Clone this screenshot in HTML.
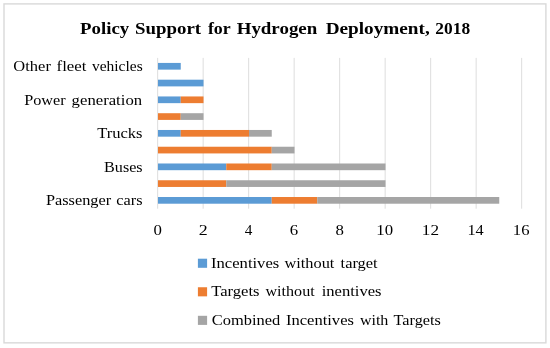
<!DOCTYPE html>
<html><head><meta charset="utf-8"><title>Policy Support for Hydrogen Deployment, 2018</title>
<style>
html,body{margin:0;padding:0;background:#fff;}
body{width:550px;height:348px;overflow:hidden;}
svg{display:block;}
text{font-family:"Liberation Serif",serif;fill:#000;}
</style></head><body>
<svg width="550" height="348" viewBox="0 0 550 348">
<rect x="0" y="0" width="550" height="348" fill="#fff"/>
<rect x="4.0" y="3.9" width="541.9" height="338.95" fill="#fff" stroke="#D9D9D9" stroke-width="1.4"/>

<line x1="157.65" y1="57.9" x2="157.65" y2="208.7" stroke="#D9D9D9" stroke-width="0.9"/>
<line x1="203.15" y1="57.9" x2="203.15" y2="208.7" stroke="#D9D9D9" stroke-width="0.9"/>
<line x1="248.65" y1="57.9" x2="248.65" y2="208.7" stroke="#D9D9D9" stroke-width="0.9"/>
<line x1="294.15" y1="57.9" x2="294.15" y2="208.7" stroke="#D9D9D9" stroke-width="0.9"/>
<line x1="339.65" y1="57.9" x2="339.65" y2="208.7" stroke="#D9D9D9" stroke-width="0.9"/>
<line x1="385.15" y1="57.9" x2="385.15" y2="208.7" stroke="#D9D9D9" stroke-width="0.9"/>
<line x1="430.65" y1="57.9" x2="430.65" y2="208.7" stroke="#D9D9D9" stroke-width="0.9"/>
<line x1="476.15" y1="57.9" x2="476.15" y2="208.7" stroke="#D9D9D9" stroke-width="0.9"/>
<line x1="521.65" y1="57.9" x2="521.65" y2="208.7" stroke="#D9D9D9" stroke-width="0.9"/>
<rect x="158.00" y="62.93" width="22.75" height="6.7" fill="#5B9BD5"/>
<rect x="158.00" y="79.69" width="45.50" height="6.7" fill="#5B9BD5"/>
<rect x="158.00" y="96.45" width="22.75" height="6.7" fill="#5B9BD5"/>
<rect x="180.75" y="96.45" width="22.75" height="6.7" fill="#ED7D31"/>
<rect x="158.00" y="113.21" width="22.75" height="6.7" fill="#ED7D31"/>
<rect x="180.75" y="113.21" width="22.75" height="6.7" fill="#A5A5A5"/>
<rect x="158.00" y="129.97" width="22.75" height="6.7" fill="#5B9BD5"/>
<rect x="180.75" y="129.97" width="68.25" height="6.7" fill="#ED7D31"/>
<rect x="249.00" y="129.97" width="22.75" height="6.7" fill="#A5A5A5"/>
<rect x="158.00" y="146.73" width="113.75" height="6.7" fill="#ED7D31"/>
<rect x="271.75" y="146.73" width="22.75" height="6.7" fill="#A5A5A5"/>
<rect x="158.00" y="163.49" width="68.25" height="6.7" fill="#5B9BD5"/>
<rect x="226.25" y="163.49" width="45.50" height="6.7" fill="#ED7D31"/>
<rect x="271.75" y="163.49" width="113.75" height="6.7" fill="#A5A5A5"/>
<rect x="158.00" y="180.25" width="68.25" height="6.7" fill="#ED7D31"/>
<rect x="226.25" y="180.25" width="159.25" height="6.7" fill="#A5A5A5"/>
<rect x="158.00" y="197.01" width="113.75" height="6.7" fill="#5B9BD5"/>
<rect x="271.75" y="197.01" width="45.50" height="6.7" fill="#ED7D31"/>
<rect x="317.25" y="197.01" width="182.00" height="6.7" fill="#A5A5A5"/>
<text y="33.6" font-size="17.6" font-weight="bold"><tspan x="80.08" textLength="49.07" lengthAdjust="spacingAndGlyphs">Policy</tspan> <tspan x="135.04" textLength="65.99" lengthAdjust="spacingAndGlyphs">Support</tspan> <tspan x="207.9" textLength="22.47" lengthAdjust="spacingAndGlyphs">for</tspan> <tspan x="236.68" textLength="80.61" lengthAdjust="spacingAndGlyphs">Hydrogen</tspan> <tspan x="325.67" textLength="104.12" lengthAdjust="spacingAndGlyphs">Deployment,</tspan> <tspan x="435.31" textLength="34.78" lengthAdjust="spacingAndGlyphs">2018</tspan></text>
<text y="71.3" font-size="15.4"><tspan x="13.36" textLength="37.52" lengthAdjust="spacingAndGlyphs">Other</tspan> <tspan x="56.55" textLength="29.91" lengthAdjust="spacingAndGlyphs">fleet</tspan> <tspan x="92.0" textLength="50.66" lengthAdjust="spacingAndGlyphs">vehicles</tspan></text>
<text y="104.8" font-size="15.4"><tspan x="24.18" textLength="41.48" lengthAdjust="spacingAndGlyphs">Power</tspan> <tspan x="71.64" textLength="70.47" lengthAdjust="spacingAndGlyphs">generation</tspan></text>
<text y="138.2" font-size="15.4"><tspan x="97.18" textLength="45.39" lengthAdjust="spacingAndGlyphs">Trucks</tspan></text>
<text y="171.6" font-size="15.4"><tspan x="104.08" textLength="38.54" lengthAdjust="spacingAndGlyphs">Buses</tspan></text>
<text y="205.0" font-size="15.4"><tspan x="45.98" textLength="65.22" lengthAdjust="spacingAndGlyphs">Passenger</tspan> <tspan x="116.36" textLength="26.26" lengthAdjust="spacingAndGlyphs">cars</tspan></text>
<text y="235.0" font-size="15.4"><tspan x="153.49" textLength="8.41" lengthAdjust="spacingAndGlyphs">0</tspan></text>
<text y="235.0" font-size="15.4"><tspan x="198.84" textLength="8.96" lengthAdjust="spacingAndGlyphs">2</tspan></text>
<text y="235.0" font-size="15.4"><tspan x="244.85" textLength="7.59" lengthAdjust="spacingAndGlyphs">4</tspan></text>
<text y="235.0" font-size="15.4"><tspan x="289.89" textLength="8.41" lengthAdjust="spacingAndGlyphs">6</tspan></text>
<text y="235.0" font-size="15.4"><tspan x="335.49" textLength="8.41" lengthAdjust="spacingAndGlyphs">8</tspan></text>
<text y="235.0" font-size="15.4"><tspan x="376.37" textLength="16.78" lengthAdjust="spacingAndGlyphs">10</tspan></text>
<text y="235.0" font-size="15.4"><tspan x="421.84" textLength="17.16" lengthAdjust="spacingAndGlyphs">12</tspan></text>
<text y="235.0" font-size="15.4"><tspan x="467.42" textLength="16.29" lengthAdjust="spacingAndGlyphs">14</tspan></text>
<text y="235.0" font-size="15.4"><tspan x="512.89" textLength="16.65" lengthAdjust="spacingAndGlyphs">16</tspan></text>
<text y="267.8" font-size="15.4"><tspan x="211.05" textLength="68.18" lengthAdjust="spacingAndGlyphs">Incentives</tspan> <tspan x="284.5" textLength="49.86" lengthAdjust="spacingAndGlyphs">without</tspan> <tspan x="340.59" textLength="37.1" lengthAdjust="spacingAndGlyphs">target</tspan></text>
<text y="296.3" font-size="15.4"><tspan x="211.18" textLength="48.39" lengthAdjust="spacingAndGlyphs">Targets</tspan> <tspan x="265.5" textLength="49.16" lengthAdjust="spacingAndGlyphs">without</tspan> <tspan x="321.68" textLength="59.87" lengthAdjust="spacingAndGlyphs">inentives</tspan></text>
<text y="324.8" font-size="15.4"><tspan x="211.76" textLength="68.42" lengthAdjust="spacingAndGlyphs">Combined</tspan> <tspan x="285.96" textLength="67.97" lengthAdjust="spacingAndGlyphs">Incentives</tspan> <tspan x="359.9" textLength="28.49" lengthAdjust="spacingAndGlyphs">with</tspan> <tspan x="393.58" textLength="47.27" lengthAdjust="spacingAndGlyphs">Targets</tspan></text>
<rect x="197.9" y="258.70" width="9.2" height="9.1" fill="#5B9BD5"/>
<rect x="197.9" y="287.25" width="9.2" height="9.1" fill="#ED7D31"/>
<rect x="197.9" y="315.80" width="9.2" height="9.1" fill="#A5A5A5"/>
</svg></body></html>
